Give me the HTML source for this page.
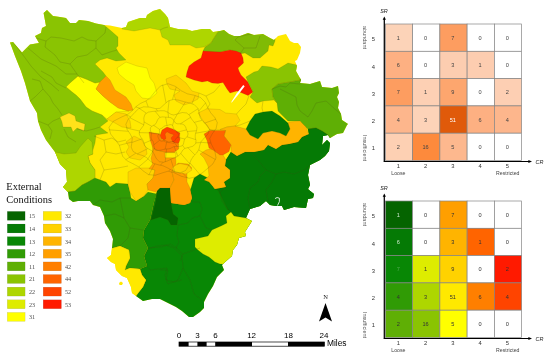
<!DOCTYPE html>
<html><head><meta charset="utf-8"><title>External Conditions</title>
<style>
html,body{margin:0;padding:0;background:#fff;}
body{width:550px;height:357px;position:relative;overflow:hidden;font-family:"Liberation Sans",sans-serif;}
</style></head><body>
<svg width="550" height="357" viewBox="0 0 550 357" style="position:absolute;left:0;top:0">
<defs><clipPath id="o"><polygon points="10,42.4 13,42 22,52.4 30,44.4 39,43 35,36 41,33 42,28 46,26 43.6,13 47,10 53,16 60,17 66,18 70,23 76,23 79,20 88,21 96,23.6 104,25 110,25.6 122,28 126,27 128,22 140,18 146,18 147,15 153,11 160,9 165,14 168,18 170,27 178,29 187,29.6 192,31 202,29 210,29 213,32 220,31 224,30 229,34 234,36 240,36 248,33 254,35 263,34 270,38 274,40 278,36 286,34 290,41 294,43 298,43 301,47 300,53 297,60 295,61 297,66 296,71 301,80 300,83 310,84 320,81 322,87 332,88 338,86 339,93 337,97 339,102 338,108 341,114 342,120 348,124 347,125 343,133 337,134 330,138 328,135 323,136 322,145 327,140 330,143 329,151 325,156 320,160 310,165 308,175 310,185 308,189 309,190 314,194 313,198 308,199 306,208 294,207 284,210 282,206 276,206 270,205 266,201 260,206 250,209 246,218 252,221 245,232 246,236 239,238 237,245 233,250 232,256 224,263 222,265 224,270 217,277 213,286 208,294 204,302 204,308 200,312 193,317 189,317 182,311 176,307 168,303 160,299 152,299 143,301 136,296 132,293 131,287 127,278 122,276 116,270 115,264 111,262 107,258 111,255 112,248 113,239 110,231 105,223 104,216 100,207 93,205 90,201 78,201 73,202 69,199 68,192 63,187 67,182 66,170 60,164 55,152 46,140 41,130 38,121 37,113 30,101 25,83 21,71 15,56"/></clipPath></defs>
<g clip-path="url(#o)" stroke="rgba(90,70,0,0.35)" stroke-width="0.4" stroke-linejoin="round">
<rect x="0" y="0" width="360" height="330" fill="#ffe900" stroke="none"/>
<polygon points="65,86 71,82 78,76 86,79 95,83 100,82 96,89 103,96 110,102 120,108 129,111 116,112 107,119 102,115 92,111 86,107 80,99 72,92" fill="#ffff00"/>
<polygon points="117,68 126,62 137,66 147,68 150,78 154,83 157,93 150,99 142,98 136,91 134,85 126,80 119,74" fill="#ffff00"/>
<polygon points="104,25 110,30 118,37 118,46 116,48 119,53 126,60 116,61 107,58 100,60 95,64 103,72 106,76 100,82 95,83 86,79 78,76 71,82 66,87 72,92 76,95 80,99 86,107 92,111 102,115 108,121 100,127 108,133 96,135 95,143 92,153 93,154 88,156 90,163 95,170 95,178 88,182 82,185 75,191 68,192 40,200 0,200 0,0 104,0" fill="#8ac402"/>
<polygon points="60,117 69,113 75,116 76,121 85,124 84,131 77,128 73,132 71,127 63,127 62,122" fill="#ffe21a"/>
<polygon points="55,152 64,154 76,153 80,147 88,138 92,142 93,154 88,156 90,163 95,170 95,178 88,182 82,185 75,191 68,192 50,195 40,150" fill="#aed600"/>
<polygon points="122,29 134,31 150,28 160,30 162,37 168,40 170,45 190,45 196,48 204,47 211,43 214,38 218,32 222,0 120,0" fill="#aed600"/>
<polygon points="218,32 214,38 211,43 205,47 203,51 212,53 220,52 230,50 239,54 245,53 253,58 260,58 268,51 269,45 273,46 275,41 276,30 250,20 222,20" fill="#80bb05"/>
<polygon points="189,66 194,62 201,58 203,51 212,51.5 220,52 230,50 236,51 241,53 243,58 243.5,63 238,68 239,71 241,75 248,82 253,92 248,95.5 242,93 237,91 230,93 227,89 223,82.5 218,83.5 212,83 207.5,81 202,82 194,80 186,77 187,72" fill="#ff1a00"/>
<polygon points="248,82 246,77 254,72 258,71 262,66 271,67 278,69 288,63 297,65 310,60 310,80 301,80 290,82 278,84 272,89 273,97 277,103 274,100 263,101 257,103 250,97 253,92" fill="#8ac402"/>
<polygon points="277,103 273,97 272,89 278,84 290,82 301,80 300,83 300,70 360,70 360,140 330,138 328,135 322,131 316,128 308,129 304,126 300,121 296,121 288,121 278,111" fill="#5faf05"/>
<polygon points="158,188 170,188 171,203 184,205 190,203 192,198 190,190 191,188 194,178 200,174 208,178 214,188 215,189 226,187 224,182 230,178 230,170 225,166 226,160 231,152 237,156 245,152 254,152 264,150 268,145 276,149 282,145 289,144 298,142 302,137 309,134 308,129 316,128 322,131 328,135 330,138 360,140 360,330 100,330 136,296 139,292 143,287 146,280 142,275 140,269 147,266 144,256 148,248 143,238 144,230 150,220 154,202" fill="#088705"/>
<polygon points="218,190 215,189 226,187 224,182 230,178 230,170 225,166 226,160 231,152 237,156 245,152 254,152 264,150 268,145 276,149 282,145 289,144 298,142 302,137 309,134 308,129 316,128 322,131 328,135 330,138 360,140 360,230 246,218 240,217 234,216 231,212 228,210" fill="#057a05"/>
<polygon points="195,239 208,236 212,230 221,226 227,223 226,216 231,212 234,216 240,217 246,218 260,220 260,260 224,264 220,264 215,262 209,257 203,254 198,250 195,247" fill="#deec00"/>
<polygon points="68,192 75,191 82,185 88,182 95,178 106,182 110,187 116,183 128,184 130,192 131,198 136,201 144,196 148,192 157,194 158,190 154,202 150,220 144,230 143,238 148,248 144,256 147,266 140,269 130,268 125,270 126,266 130,258 129,250 120,246 113,248 100,250 60,210 60,192" fill="#309b05"/>
<polygon points="157.5,188 170,188 171,203 173,214 178,218 177,225 171,225 168,220 160,217 151,220 153,212 156,200" fill="#056400"/>
<polygon points="113,248 120,246 129,250 130,258 126,266 125,270 130,268 140,269 142,275 146,280 143,287 139,292 136,296 130,300 100,300 100,248" fill="#ffe900"/>
<polygon points="106,76 110,80 115,90 126,97 131,104 133,110 128,111 118,108 110,102 103,96 96,89 100,82" fill="#ff9f00"/>
<polygon points="107,119 116,112 126,114 130,121 131,128 122,127 115,123" fill="#ffd200"/>
<polygon points="166,79 176,75 186,83 192,91 199,93 198,99 190,103 184,105 176,101 174,95 180,91 170,89 167,84" fill="#ffd200"/>
<polygon points="198,113 207,108.7 220,109.5 225.6,113 236.5,114 240,120.5 235,126 227,127 220,129.6 210,130 204,122" fill="#ffd200"/>
<polygon points="126,142 134,136 142,140 146,148 147,154 140,160 130,158 126,152 129,147" fill="#ffd200"/>
<polygon points="128,172 136,168 149,168 155,170 153,178 147,184 148,190 144,196 136,201 130,192 128,184" fill="#ffd200"/>
<polygon points="152.5,147 155.4,149.8 165,152 174.4,152 175.8,160 176,164 172,172 174,180 170,188 160,188 156,192 148,190 147,184 153,178 155,170 149,168.7 152.5,164 151,158.5 152.5,152.7" fill="#ff9f00"/>
<polygon points="149,132 160,134 160.5,139 165.6,141 172,139.6 178.7,144 178.7,149 174.4,152 165,152 155.4,149.8 152.5,147 150,139.6" fill="#ff7f00"/>
<polygon points="165,152.7 175.8,152.7 175.8,157.8 165,157.8" fill="#ffe900"/>
<polygon points="161,136 165,132 168,131 175,134 176,139 174,143.5 165,142" fill="#ff7f00"/>
<polygon points="160,135.5 162,130 167,127 172.7,129 180,133 179.5,136 180,139.7 178.6,143.5 172.7,142 171,138 174,134.7 170,133.4 167,131.8 165,134 166,138.5 164,140 161,138.5" fill="#ff4400"/>
<polygon points="174,168 178,163 188,164 192,168 187,173 187,182 190,188 192,198 190,203 184,205 171,203 170,188 174,180 172,172" fill="#ff9f00"/>
<polygon points="172,168 176,165 180,163.5 189,165.5 192,170 186,174 180,173 174,172" fill="#ffd200"/>
<polygon points="200,154 206,150 210,149 218,150 223,155 226,160 225,166 230,170 230,178 224,182 226,187 215,189 209,182 204,180 209,176 208,166 204,158" fill="#ffb400"/>
<polygon points="225.6,130.5 220,129.6 227,127 235,126 246,129 250,135 258,139 263,133 272,131 280,133 286,136 290,129 288,123 289,122 300,121 306,127 308,133 309,134 302,137 298,142 289,144 282,145 276,149 268,145 264,150 254,152 245,152 237,156 231,152 231,145 224,136" fill="#ffb400"/>
<polygon points="204,134 210,130.5 225.6,130.5 224,136 231,145 229,151.5 223,155 220,155 213,150 209,148 207,140.5" fill="#ff6400"/>
<polygon points="250,121 255,114 263,112 272,111 280,116 288,123 290,129 286,136 280,133 272,131 263,133 258,139 250,135 246,129" fill="#057a05"/>
</g>
<g clip-path="url(#o)" fill="none" stroke="rgba(70,70,20,0.42)" stroke-width="0.45" stroke-linejoin="round">
<polyline points="36,38 46,41 51,37 61,38 74,41 82,37 88,40 96,41 105,33 106,27"/>
<polyline points="46,41 45,47 55,55 60,62 70,64 77,57 87,55 96,48 96,41"/>
<polyline points="70,64 77,74 84,83"/>
<polyline points="13,42 23,55 31,66 41,77 51,84 59,91"/>
<polyline points="28,48 41,59 56,66 66,74 77,74"/>
<polyline points="96,48 102,55 110,52 117,50"/>
<polyline points="32,79 40,81 43,89 50,97 53,103 58,109 62,115"/>
<polyline points="41,71 52,77 56,83 66,88"/>
<polyline points="43,89 35,97 30,101"/>
<polyline points="38,121 48,125 52,131 50,139"/>
<polyline points="60,118 53,121 48,125"/>
<polyline points="77,129 86,131 94,129 100,127"/>
<polyline points="64,129 68,137 76,142"/>
<polyline points="178,225 177,236 179,242 176,248 183,254 180,261"/>
<polyline points="178,225 188,223 192,218 200,216 202,209 200,202 192,202"/>
<polyline points="200,216 206,228 212,230"/>
<polyline points="149,248 162,247 170,244 177,248"/>
<polyline points="183,254 194,250 200,248"/>
<polyline points="253,155 258,160 266,170 260,176 258,182 250,188 248,198 250,209"/>
<polyline points="266,170 276,174 284,172 294,174 304,170 310,165"/>
<polyline points="276,174 272,182 266,190 268,201"/>
<polyline points="226,187 220,192 222,201 228,210"/>
<polyline points="148,249 156,246 166,245 174,248 182,256 183,268 178,280 168,284 165,276 167,268 150,270 147,266"/>
<polyline points="183,268 190,280 194,294 202,300"/>
<polyline points="160,270 168,270 166,280 174,282 182,280"/>
<polyline points="272,89 280,86 286,87 290,83 300,84"/>
<polyline points="280,89 288,93 296,97 297,105 300,111 308,117 312,111 316,103 326,101 336,110 341,114"/>
<polyline points="235,40 244,48 256,48 258,42 260,36"/>
<polyline points="235,40 238,37 246,35 252,34"/>
<polyline points="244,48 240,54"/>
<polyline points="160,30 164,28 168,27"/>
<polyline points="94,136 104,140 112,138 118,142 126,140"/>
<polyline points="104,140 106,152 100,160 104,170 100,180"/>
<polyline points="106,152 116,154 125,152"/>
<polyline points="128,166 118,168 104,170"/>
<polyline points="104,216 115,214 124,218 130,228 128,238 120,246"/>
<polyline points="130,228 143,230"/>
<polyline points="93,205 100,200 112,202 120,198 131,198"/>
<polyline points="120,198 124,218"/>
<polyline points="250,121 240,125 235,126"/>
<polyline points="220,85 214,92 206,96 199,93"/>
<polyline points="206,96 210,104 207,108.7"/>
<polyline points="249,95.5 246,104 240,110 236.5,114"/>
<polyline points="263,101 262,108 263,112"/>
<polyline points="178.4,134.0 178.9,135.2 178.5,136.4 177.3,137.3 176.2,138.1 175.7,139.1 175.2,140.2 174.3,141.1 173.0,141.5 171.7,141.6 170.4,141.8 169.2,142.1 168.0,142.0 166.9,141.4 165.9,140.7 164.8,140.6 163.3,141.0 161.6,141.2 160.1,140.8 159.3,139.8 158.7,138.6 158.2,137.5 157.9,136.3 158.1,135.1 159.0,134.0 159.7,133.1 159.7,132.1 159.4,130.9 159.4,129.7 160.2,128.9 161.5,128.4 162.5,127.8 163.3,127.0 164.2,126.1 165.4,125.7 166.7,125.5 168.0,125.3 169.4,124.8 170.9,124.6 172.3,125.1 173.0,126.5 173.4,128.0 173.9,129.0 174.7,129.6 175.6,130.2 176.2,131.1 176.6,132.0 177.4,132.9 178.4,134.0"/>
<polyline points="188.1,134.0 187.4,136.2 185.7,138.1 184.4,139.8 183.9,141.9 183.4,144.2 181.9,146.0 179.2,146.6 176.3,146.4 174.0,146.6 172.2,147.5 170.2,148.5 168.0,148.9 165.7,149.0 163.2,149.5 160.1,150.3 157.0,150.4 154.7,148.9 153.9,146.1 153.7,143.4 153.1,141.4 151.9,139.7 151.1,137.9 151.1,135.9 151.4,134.0 151.0,132.1 150.3,129.9 150.4,127.7 152.1,126.1 154.3,125.0 156.0,123.6 156.9,121.5 158.0,119.0 160.0,117.3 162.7,116.9 165.4,117.1 168.0,117.3 170.5,117.6 172.7,118.9 174.2,121.1 175.4,123.0 177.1,123.8 179.9,123.8 182.9,124.2 184.9,125.6 185.8,127.6 186.5,129.7 187.5,131.8 188.1,134.0"/>
<polyline points="195.4,134.0 195.2,137.1 196.0,140.5 195.6,143.8 192.7,146.3 188.4,147.5 184.8,148.4 182.6,150.4 180.9,153.3 178.5,155.8 175.3,157.4 171.8,158.8 168.0,160.7 163.7,162.3 159.4,161.7 156.2,158.5 154.3,154.4 152.6,151.3 149.8,149.6 146.8,148.0 144.7,145.6 143.8,142.6 142.8,139.8 140.8,137.1 139.2,134.0 139.6,130.8 141.7,127.9 143.7,125.3 144.1,122.1 143.8,118.0 145.0,114.2 148.4,112.1 152.9,111.4 157.0,111.1 160.7,110.7 164.5,110.8 168.0,112.4 171.0,114.4 173.9,115.0 177.7,113.8 182.4,112.5 186.7,113.0 189.6,115.4 191.3,118.6 193.4,121.4 195.7,124.1 197.0,127.3 196.5,130.8 195.4,134.0"/>
<polyline points="208.0,134.0 204.2,138.1 201.1,141.6 199.8,145.4 198.9,149.4 196.7,153.0 193.6,156.0 191.1,159.9 188.9,165.2 185.6,170.5 180.1,172.9 173.7,171.4 168.0,168.1 163.1,165.8 158.4,164.8 153.8,163.5 150.0,160.8 146.8,157.7 142.9,155.6 137.7,154.1 133.0,151.4 131.2,147.1 131.9,142.3 132.3,138.0 130.2,134.0 127.1,129.4 125.9,124.3 128.0,119.7 131.6,115.9 135.0,112.2 138.6,108.7 143.7,106.8 150.1,107.2 155.8,108.7 160.0,108.3 163.6,105.0 168.0,101.1 173.3,99.4 178.5,100.1 183.6,101.6 188.9,102.8 194.2,104.6 197.9,108.3 199.3,113.3 200.3,117.9 203.0,121.5 207.0,125.0 209.4,129.3 208.0,134.0"/>
<polyline points="212.1,134.0 209.7,138.7 211.3,144.0 214.8,150.7 216.0,157.9 213.0,163.8 207.8,168.3 202.5,172.7 196.6,176.7 189.3,178.3 181.1,176.2 173.9,172.6 168.0,171.2 162.0,173.0 155.2,175.3 148.5,174.6 143.2,170.9 138.7,166.9 133.3,163.9 127.2,160.9 122.8,156.5 120.9,150.8 119.3,145.2 115.5,140.0 110.6,134.0 109.0,127.3 113.2,121.4 121.0,117.3 128.1,114.1 132.5,110.5 136.1,106.5 140.7,103.3 145.9,101.0 150.4,97.5 154.9,91.8 160.6,85.9 168.0,83.7 175.3,86.3 181.4,90.8 187.3,93.8 194.0,95.2 200.5,97.5 205.1,102.1 207.8,107.7 210.7,112.8 214.7,117.4 217.3,122.6 216.1,128.5 212.1,134.0"/>
<polyline points="177.4,137.3 184.9,139.0"/>
<polyline points="173.5,141.4 177.2,146.5"/>
<polyline points="166.9,141.4 165.1,149.1"/>
<polyline points="159.6,140.3 153.8,144.9"/>
<polyline points="159.0,134.0 151.3,133.3"/>
<polyline points="159.6,129.4 153.6,125.3"/>
<polyline points="167.0,125.5 165.6,117.2"/>
<polyline points="172.5,125.4 173.9,120.6"/>
<polyline points="176.8,132.2 186.6,129.9"/>
<polyline points="186.9,136.8 195.8,139.6"/>
<polyline points="182.7,145.4 184.7,148.4"/>
<polyline points="174.1,146.5 177.9,156.2"/>
<polyline points="166.6,148.9 165.2,161.9"/>
<polyline points="154.4,148.2 152.7,151.4"/>
<polyline points="152.0,139.9 144.0,143.3"/>
<polyline points="151.2,132.9 139.1,132.6"/>
<polyline points="151.7,126.3 144.0,121.9"/>
<polyline points="160.0,117.3 155.2,111.3"/>
<polyline points="168.5,117.3 168.0,112.4"/>
<polyline points="173.8,120.4 177.4,113.9"/>
<polyline points="180.4,123.8 190.6,117.3"/>
<polyline points="187.4,131.5 196.5,130.7"/>
<polyline points="196.0,142.8 200.6,142.6"/>
<polyline points="187.8,147.6 194.8,154.8"/>
<polyline points="180.8,153.5 189.6,163.6"/>
<polyline points="170.8,159.3 174.8,171.9"/>
<polyline points="162.9,162.4 160.5,165.1"/>
<polyline points="152.7,151.5 148.0,158.7"/>
<polyline points="147.7,148.6 137.3,153.9"/>
<polyline points="142.1,138.8 131.9,142.5"/>
<polyline points="139.4,131.0 126.5,128.0"/>
<polyline points="143.9,124.9 129.8,117.7"/>
<polyline points="146.2,113.1 139.2,108.3"/>
<polyline points="157.5,111.1 156.2,108.8"/>
<polyline points="167.8,112.2 169.1,100.5"/>
<polyline points="177.8,113.8 185.4,102.1"/>
<polyline points="188.9,114.6 198.1,108.7"/>
<polyline points="194.3,122.4 201.8,120.4"/>
<polyline points="195.6,133.2 209.4,130.8"/>
<polyline points="200.7,142.3 210.8,143.0"/>
<polyline points="198.7,150.0 215.6,159.6"/>
<polyline points="189.9,162.8 200.0,174.6"/>
<polyline points="182.2,172.6 187.6,178.1"/>
<polyline points="170.0,169.4 168.9,171.1"/>
<polyline points="154.8,163.9 148.9,174.8"/>
<polyline points="148.2,158.9 138.8,166.9"/>
<polyline points="135.7,153.3 125.6,159.8"/>
<polyline points="132.0,142.0 119.3,145.3"/>
<polyline points="128.3,131.3 109.0,129.8"/>
<polyline points="130.7,116.9 126.6,114.9"/>
<polyline points="139.6,108.1 135.6,106.9"/>
<polyline points="148.2,106.9 146.0,100.9"/>
<polyline points="166.0,102.7 162.6,84.8"/>
<polyline points="172.5,99.4 176.2,87.0"/>
<polyline points="192.0,103.7 195.1,95.5"/>
<polyline points="198.9,111.0 205.6,102.9"/>
<polyline points="204.8,123.0 216.0,119.2"/>
<polyline points="209.4,129.6 214.6,131.0"/>
</g>
<polygon points="119,283 121,281.5 123,283 122,285 119.5,285" fill="#ffe900"/>
<polygon points="243.2,85 244.7,86.2 238.4,94.6 231.8,102.6 231.2,102.2 236.6,93.4" fill="#fff"/>
<path d="M275,198.6 Q277,196.6 279.4,198.2 Q280.3,201.5 277.5,205.5" fill="none" stroke="#fff" stroke-width="0.8"/>
<polygon points="325.5,303 332,321.5 325.5,317.5 319,321.5" fill="#000"/>
<text x="325.6" y="299.3" font-family="Liberation Serif, serif" font-size="6.5" text-anchor="middle" fill="#222">N</text>
<rect x="179" y="342" width="145.4" height="4.2" fill="#fff" stroke="#000" stroke-width="0.7"/>
<rect x="179" y="342" width="9.599999999999994" height="4.2" fill="#000"/>
<rect x="197.4" y="342" width="9.199999999999989" height="4.2" fill="#000"/>
<rect x="215.2" y="342" width="36.80000000000001" height="4.2" fill="#000"/>
<rect x="288" y="342" width="36.39999999999998" height="4.2" fill="#000"/>
<text x="179" y="338.4" font-family="Liberation Sans, sans-serif" font-size="8" text-anchor="middle" fill="#000">0</text>
<text x="197.4" y="338.4" font-family="Liberation Sans, sans-serif" font-size="8" text-anchor="middle" fill="#000">3</text>
<text x="215.4" y="338.4" font-family="Liberation Sans, sans-serif" font-size="8" text-anchor="middle" fill="#000">6</text>
<text x="251.6" y="338.4" font-family="Liberation Sans, sans-serif" font-size="8" text-anchor="middle" fill="#000">12</text>
<text x="288.4" y="338.4" font-family="Liberation Sans, sans-serif" font-size="8" text-anchor="middle" fill="#000">18</text>
<text x="324" y="338.4" font-family="Liberation Sans, sans-serif" font-size="8" text-anchor="middle" fill="#000">24</text>
<text x="327" y="346.2" font-family="Liberation Sans, sans-serif" font-size="8.4" fill="#000">Miles</text>
<text x="6.3" y="189.7" font-family="Liberation Serif, serif" font-size="11.1" textLength="35.4" lengthAdjust="spacingAndGlyphs" fill="#111">External</text>
<text x="6.3" y="202.6" font-family="Liberation Serif, serif" font-size="11.1" textLength="45.8" lengthAdjust="spacingAndGlyphs" fill="#111">Conditions</text>
<rect x="7.3" y="211.40" width="17.8" height="8.9" fill="#056400" stroke="rgba(0,0,0,0.25)" stroke-width="0.3"/>
<text x="29" y="218.30" font-family="Liberation Serif, serif" font-size="6.8" textLength="6.1" lengthAdjust="spacingAndGlyphs" fill="#4a4a4a">15</text>
<rect x="7.3" y="224.03" width="17.8" height="8.9" fill="#057a05" stroke="rgba(0,0,0,0.25)" stroke-width="0.3"/>
<text x="29" y="230.93" font-family="Liberation Serif, serif" font-size="6.8" textLength="6.1" lengthAdjust="spacingAndGlyphs" fill="#4a4a4a">14</text>
<rect x="7.3" y="236.66" width="17.8" height="8.9" fill="#088705" stroke="rgba(0,0,0,0.25)" stroke-width="0.3"/>
<text x="29" y="243.56" font-family="Liberation Serif, serif" font-size="6.8" textLength="6.1" lengthAdjust="spacingAndGlyphs" fill="#4a4a4a">13</text>
<rect x="7.3" y="249.29" width="17.8" height="8.9" fill="#309b05" stroke="rgba(0,0,0,0.25)" stroke-width="0.3"/>
<text x="29" y="256.19" font-family="Liberation Serif, serif" font-size="6.8" textLength="6.1" lengthAdjust="spacingAndGlyphs" fill="#4a4a4a">12</text>
<rect x="7.3" y="261.92" width="17.8" height="8.9" fill="#5faf05" stroke="rgba(0,0,0,0.25)" stroke-width="0.3"/>
<text x="29" y="268.82" font-family="Liberation Serif, serif" font-size="6.8" textLength="6.1" lengthAdjust="spacingAndGlyphs" fill="#4a4a4a">11</text>
<rect x="7.3" y="274.55" width="17.8" height="8.9" fill="#8ac402" stroke="rgba(0,0,0,0.25)" stroke-width="0.3"/>
<text x="29" y="281.45" font-family="Liberation Serif, serif" font-size="6.8" textLength="6.1" lengthAdjust="spacingAndGlyphs" fill="#4a4a4a">21</text>
<rect x="7.3" y="287.18" width="17.8" height="8.9" fill="#aed600" stroke="rgba(0,0,0,0.25)" stroke-width="0.3"/>
<text x="29" y="294.08" font-family="Liberation Serif, serif" font-size="6.8" textLength="6.1" lengthAdjust="spacingAndGlyphs" fill="#4a4a4a">22</text>
<rect x="7.3" y="299.81" width="17.8" height="8.9" fill="#deec00" stroke="rgba(0,0,0,0.25)" stroke-width="0.3"/>
<text x="29" y="306.71" font-family="Liberation Serif, serif" font-size="6.8" textLength="6.1" lengthAdjust="spacingAndGlyphs" fill="#4a4a4a">23</text>
<rect x="7.3" y="312.44" width="17.8" height="8.9" fill="#ffff00" stroke="rgba(0,0,0,0.25)" stroke-width="0.3"/>
<text x="29" y="319.34" font-family="Liberation Serif, serif" font-size="6.8" textLength="6.1" lengthAdjust="spacingAndGlyphs" fill="#4a4a4a">31</text>
<rect x="43.2" y="211.40" width="18.2" height="8.9" fill="#ffe900" stroke="rgba(0,0,0,0.25)" stroke-width="0.3"/>
<text x="65" y="218.30" font-family="Liberation Serif, serif" font-size="6.8" textLength="6.1" lengthAdjust="spacingAndGlyphs" fill="#4a4a4a">32</text>
<rect x="43.2" y="224.03" width="18.2" height="8.9" fill="#ffd200" stroke="rgba(0,0,0,0.25)" stroke-width="0.3"/>
<text x="65" y="230.93" font-family="Liberation Serif, serif" font-size="6.8" textLength="6.1" lengthAdjust="spacingAndGlyphs" fill="#4a4a4a">33</text>
<rect x="43.2" y="236.66" width="18.2" height="8.9" fill="#ffb400" stroke="rgba(0,0,0,0.25)" stroke-width="0.3"/>
<text x="65" y="243.56" font-family="Liberation Serif, serif" font-size="6.8" textLength="6.1" lengthAdjust="spacingAndGlyphs" fill="#4a4a4a">34</text>
<rect x="43.2" y="249.29" width="18.2" height="8.9" fill="#ff9f00" stroke="rgba(0,0,0,0.25)" stroke-width="0.3"/>
<text x="65" y="256.19" font-family="Liberation Serif, serif" font-size="6.8" textLength="6.1" lengthAdjust="spacingAndGlyphs" fill="#4a4a4a">35</text>
<rect x="43.2" y="261.92" width="18.2" height="8.9" fill="#ff7f00" stroke="rgba(0,0,0,0.25)" stroke-width="0.3"/>
<text x="65" y="268.82" font-family="Liberation Serif, serif" font-size="6.8" textLength="6.1" lengthAdjust="spacingAndGlyphs" fill="#4a4a4a">42</text>
<rect x="43.2" y="274.55" width="18.2" height="8.9" fill="#ff6400" stroke="rgba(0,0,0,0.25)" stroke-width="0.3"/>
<text x="65" y="281.45" font-family="Liberation Serif, serif" font-size="6.8" textLength="6.1" lengthAdjust="spacingAndGlyphs" fill="#4a4a4a">44</text>
<rect x="43.2" y="287.18" width="18.2" height="8.9" fill="#ff4400" stroke="rgba(0,0,0,0.25)" stroke-width="0.3"/>
<text x="65" y="294.08" font-family="Liberation Serif, serif" font-size="6.8" textLength="6.1" lengthAdjust="spacingAndGlyphs" fill="#4a4a4a">52</text>
<rect x="43.2" y="299.81" width="18.2" height="8.9" fill="#ff1a00" stroke="rgba(0,0,0,0.25)" stroke-width="0.3"/>
<text x="65" y="306.71" font-family="Liberation Serif, serif" font-size="6.8" textLength="6.1" lengthAdjust="spacingAndGlyphs" fill="#4a4a4a">53</text>
<rect x="385.40" y="24.00" width="27.24" height="27.3" fill="#fcd3b8" stroke="#858585" stroke-width="0.7"/>
<text x="398.32" y="39.75" font-family="Liberation Sans, sans-serif" font-size="5.6" text-anchor="middle" fill="#444">1</text>
<rect x="412.64" y="24.00" width="27.24" height="27.3" fill="#ffffff" stroke="#858585" stroke-width="0.7"/>
<text x="425.56" y="39.75" font-family="Liberation Sans, sans-serif" font-size="5.6" text-anchor="middle" fill="#444">0</text>
<rect x="439.88" y="24.00" width="27.24" height="27.3" fill="#fd9d60" stroke="#858585" stroke-width="0.7"/>
<text x="452.80" y="39.75" font-family="Liberation Sans, sans-serif" font-size="5.6" text-anchor="middle" fill="#444">7</text>
<rect x="467.12" y="24.00" width="27.24" height="27.3" fill="#ffffff" stroke="#858585" stroke-width="0.7"/>
<text x="480.04" y="39.75" font-family="Liberation Sans, sans-serif" font-size="5.6" text-anchor="middle" fill="#444">0</text>
<rect x="494.36" y="24.00" width="27.24" height="27.3" fill="#ffffff" stroke="#858585" stroke-width="0.7"/>
<text x="507.28" y="39.75" font-family="Liberation Sans, sans-serif" font-size="5.6" text-anchor="middle" fill="#444">0</text>
<rect x="385.40" y="51.30" width="27.24" height="27.3" fill="#fdb082" stroke="#858585" stroke-width="0.7"/>
<text x="398.32" y="67.05" font-family="Liberation Sans, sans-serif" font-size="5.6" text-anchor="middle" fill="#444">6</text>
<rect x="412.64" y="51.30" width="27.24" height="27.3" fill="#ffffff" stroke="#858585" stroke-width="0.7"/>
<text x="425.56" y="67.05" font-family="Liberation Sans, sans-serif" font-size="5.6" text-anchor="middle" fill="#444">0</text>
<rect x="439.88" y="51.30" width="27.24" height="27.3" fill="#fccdb0" stroke="#858585" stroke-width="0.7"/>
<text x="452.80" y="67.05" font-family="Liberation Sans, sans-serif" font-size="5.6" text-anchor="middle" fill="#444">3</text>
<rect x="467.12" y="51.30" width="27.24" height="27.3" fill="#fdcdb0" stroke="#858585" stroke-width="0.7"/>
<text x="480.04" y="67.05" font-family="Liberation Sans, sans-serif" font-size="5.6" text-anchor="middle" fill="#444">1</text>
<rect x="494.36" y="51.30" width="27.24" height="27.3" fill="#ffffff" stroke="#858585" stroke-width="0.7"/>
<text x="507.28" y="67.05" font-family="Liberation Sans, sans-serif" font-size="5.6" text-anchor="middle" fill="#444">0</text>
<rect x="385.40" y="78.60" width="27.24" height="27.3" fill="#fd9d60" stroke="#858585" stroke-width="0.7"/>
<text x="398.32" y="94.35" font-family="Liberation Sans, sans-serif" font-size="5.6" text-anchor="middle" fill="#444">7</text>
<rect x="412.64" y="78.60" width="27.24" height="27.3" fill="#fdd0b4" stroke="#858585" stroke-width="0.7"/>
<text x="425.56" y="94.35" font-family="Liberation Sans, sans-serif" font-size="5.6" text-anchor="middle" fill="#444">1</text>
<rect x="439.88" y="78.60" width="27.24" height="27.3" fill="#fda66e" stroke="#858585" stroke-width="0.7"/>
<text x="452.80" y="94.35" font-family="Liberation Sans, sans-serif" font-size="5.6" text-anchor="middle" fill="#444">9</text>
<rect x="467.12" y="78.60" width="27.24" height="27.3" fill="#ffffff" stroke="#858585" stroke-width="0.7"/>
<text x="480.04" y="94.35" font-family="Liberation Sans, sans-serif" font-size="5.6" text-anchor="middle" fill="#444">0</text>
<rect x="494.36" y="78.60" width="27.24" height="27.3" fill="#fdcfb3" stroke="#858585" stroke-width="0.7"/>
<text x="507.28" y="94.35" font-family="Liberation Sans, sans-serif" font-size="5.6" text-anchor="middle" fill="#444">2</text>
<rect x="385.40" y="105.90" width="27.24" height="27.3" fill="#fdb68c" stroke="#858585" stroke-width="0.7"/>
<text x="398.32" y="121.65" font-family="Liberation Sans, sans-serif" font-size="5.6" text-anchor="middle" fill="#444">4</text>
<rect x="412.64" y="105.90" width="27.24" height="27.3" fill="#fdd3b8" stroke="#858585" stroke-width="0.7"/>
<text x="425.56" y="121.65" font-family="Liberation Sans, sans-serif" font-size="5.6" text-anchor="middle" fill="#444">3</text>
<rect x="439.88" y="105.90" width="27.24" height="27.3" fill="#e05a0a" stroke="#858585" stroke-width="0.7"/>
<text x="452.80" y="121.65" font-family="Liberation Sans, sans-serif" font-size="5.6" text-anchor="middle" fill="#fff">51</text>
<rect x="467.12" y="105.90" width="27.24" height="27.3" fill="#fdb082" stroke="#858585" stroke-width="0.7"/>
<text x="480.04" y="121.65" font-family="Liberation Sans, sans-serif" font-size="5.6" text-anchor="middle" fill="#444">6</text>
<rect x="494.36" y="105.90" width="27.24" height="27.3" fill="#fdb68c" stroke="#858585" stroke-width="0.7"/>
<text x="507.28" y="121.65" font-family="Liberation Sans, sans-serif" font-size="5.6" text-anchor="middle" fill="#444">4</text>
<rect x="385.40" y="133.20" width="27.24" height="27.3" fill="#fdd0b3" stroke="#858585" stroke-width="0.7"/>
<text x="398.32" y="148.95" font-family="Liberation Sans, sans-serif" font-size="5.6" text-anchor="middle" fill="#444">2</text>
<rect x="412.64" y="133.20" width="27.24" height="27.3" fill="#fd8a3c" stroke="#858585" stroke-width="0.7"/>
<text x="425.56" y="148.95" font-family="Liberation Sans, sans-serif" font-size="5.6" text-anchor="middle" fill="#444">16</text>
<rect x="439.88" y="133.20" width="27.24" height="27.3" fill="#fdb88e" stroke="#858585" stroke-width="0.7"/>
<text x="452.80" y="148.95" font-family="Liberation Sans, sans-serif" font-size="5.6" text-anchor="middle" fill="#444">5</text>
<rect x="467.12" y="133.20" width="27.24" height="27.3" fill="#ffffff" stroke="#858585" stroke-width="0.7"/>
<text x="480.04" y="148.95" font-family="Liberation Sans, sans-serif" font-size="5.6" text-anchor="middle" fill="#444">0</text>
<rect x="494.36" y="133.20" width="27.24" height="27.3" fill="#ffffff" stroke="#858585" stroke-width="0.7"/>
<text x="507.28" y="148.95" font-family="Liberation Sans, sans-serif" font-size="5.6" text-anchor="middle" fill="#444">0</text>
<line x1="384.3" y1="19" x2="384.3" y2="161.5" stroke="#000" stroke-width="1.25"/>
<polygon points="384.3,16.6 385.9,19.8 382.7,19.8" fill="#000"/>
<line x1="383.7" y1="161.5" x2="529" y2="161.5" stroke="#000" stroke-width="1.05"/>
<polygon points="532,161.5 528.4,160 528.4,163" fill="#000"/>
<text x="384" y="13" font-family="Liberation Sans, sans-serif" font-size="5.4" font-style="italic" text-anchor="middle" fill="#222">SR</text>
<text x="539.5" y="163.5" font-family="Liberation Sans, sans-serif" font-size="5.4" font-style="italic" text-anchor="middle" fill="#222">CR</text>
<text x="373.3" y="41.25" font-family="Liberation Sans, sans-serif" font-size="5.8" text-anchor="middle" fill="#333">5</text>
<text x="373.3" y="68.55" font-family="Liberation Sans, sans-serif" font-size="5.8" text-anchor="middle" fill="#333">4</text>
<text x="373.3" y="95.85" font-family="Liberation Sans, sans-serif" font-size="5.8" text-anchor="middle" fill="#333">3</text>
<text x="373.3" y="123.15" font-family="Liberation Sans, sans-serif" font-size="5.8" text-anchor="middle" fill="#333">2</text>
<text x="373.3" y="150.45" font-family="Liberation Sans, sans-serif" font-size="5.8" text-anchor="middle" fill="#333">1</text>
<text x="398.42" y="168.4" font-family="Liberation Sans, sans-serif" font-size="5.8" text-anchor="middle" fill="#333">1</text>
<text x="425.66" y="168.4" font-family="Liberation Sans, sans-serif" font-size="5.8" text-anchor="middle" fill="#333">2</text>
<text x="452.90" y="168.4" font-family="Liberation Sans, sans-serif" font-size="5.8" text-anchor="middle" fill="#333">3</text>
<text x="480.14" y="168.4" font-family="Liberation Sans, sans-serif" font-size="5.8" text-anchor="middle" fill="#333">4</text>
<text x="507.38" y="168.4" font-family="Liberation Sans, sans-serif" font-size="5.8" text-anchor="middle" fill="#333">5</text>
<text x="398.4" y="174.9" font-family="Liberation Sans, sans-serif" font-size="5.2" text-anchor="middle" fill="#444">Loose</text>
<text x="507.8" y="174.9" font-family="Liberation Sans, sans-serif" font-size="5.2" text-anchor="middle" fill="#444">Restricted</text>
<text transform="translate(363,37.5) rotate(90)" font-family="Liberation Sans, sans-serif" font-size="5.5" text-anchor="middle" fill="#555">abundant</text>
<text transform="translate(363,148) rotate(90)" font-family="Liberation Sans, sans-serif" font-size="5.5" text-anchor="middle" fill="#555">Insufficient</text>
<rect x="385.40" y="201.00" width="27.24" height="27.3" fill="#056400" stroke="#858585" stroke-width="0.7"/>
<text x="398.32" y="216.75" font-family="Liberation Sans, sans-serif" font-size="5.6" text-anchor="middle" fill="#cfe8cf">1</text>
<rect x="412.64" y="201.00" width="27.24" height="27.3" fill="#ffffff" stroke="#858585" stroke-width="0.7"/>
<text x="425.56" y="216.75" font-family="Liberation Sans, sans-serif" font-size="5.6" text-anchor="middle" fill="#333">0</text>
<rect x="439.88" y="201.00" width="27.24" height="27.3" fill="#ff9f00" stroke="#858585" stroke-width="0.7"/>
<text x="452.80" y="216.75" font-family="Liberation Sans, sans-serif" font-size="5.6" text-anchor="middle" fill="#333">7</text>
<rect x="467.12" y="201.00" width="27.24" height="27.3" fill="#ffffff" stroke="#858585" stroke-width="0.7"/>
<text x="480.04" y="216.75" font-family="Liberation Sans, sans-serif" font-size="5.6" text-anchor="middle" fill="#333">0</text>
<rect x="494.36" y="201.00" width="27.24" height="27.3" fill="#ffffff" stroke="#858585" stroke-width="0.7"/>
<text x="507.28" y="216.75" font-family="Liberation Sans, sans-serif" font-size="5.6" text-anchor="middle" fill="#333">0</text>
<rect x="385.40" y="228.30" width="27.24" height="27.3" fill="#057a05" stroke="#858585" stroke-width="0.7"/>
<text x="398.32" y="244.05" font-family="Liberation Sans, sans-serif" font-size="5.6" text-anchor="middle" fill="#cfe8cf">6</text>
<rect x="412.64" y="228.30" width="27.24" height="27.3" fill="#ffffff" stroke="#858585" stroke-width="0.7"/>
<text x="425.56" y="244.05" font-family="Liberation Sans, sans-serif" font-size="5.6" text-anchor="middle" fill="#333">0</text>
<rect x="439.88" y="228.30" width="27.24" height="27.3" fill="#ffb400" stroke="#858585" stroke-width="0.7"/>
<text x="452.80" y="244.05" font-family="Liberation Sans, sans-serif" font-size="5.6" text-anchor="middle" fill="#333">3</text>
<rect x="467.12" y="228.30" width="27.24" height="27.3" fill="#ff6400" stroke="#858585" stroke-width="0.7"/>
<text x="480.04" y="244.05" font-family="Liberation Sans, sans-serif" font-size="5.6" text-anchor="middle" fill="#333">1</text>
<rect x="494.36" y="228.30" width="27.24" height="27.3" fill="#ffffff" stroke="#858585" stroke-width="0.7"/>
<text x="507.28" y="244.05" font-family="Liberation Sans, sans-serif" font-size="5.6" text-anchor="middle" fill="#333">0</text>
<rect x="385.40" y="255.60" width="27.24" height="27.3" fill="#088705" stroke="#858585" stroke-width="0.7"/>
<text x="398.32" y="271.35" font-family="Liberation Sans, sans-serif" font-size="5.6" text-anchor="middle" fill="#5a5">7</text>
<rect x="412.64" y="255.60" width="27.24" height="27.3" fill="#deec00" stroke="#858585" stroke-width="0.7"/>
<text x="425.56" y="271.35" font-family="Liberation Sans, sans-serif" font-size="5.6" text-anchor="middle" fill="#333">1</text>
<rect x="439.88" y="255.60" width="27.24" height="27.3" fill="#ffd200" stroke="#858585" stroke-width="0.7"/>
<text x="452.80" y="271.35" font-family="Liberation Sans, sans-serif" font-size="5.6" text-anchor="middle" fill="#333">9</text>
<rect x="467.12" y="255.60" width="27.24" height="27.3" fill="#ffffff" stroke="#858585" stroke-width="0.7"/>
<text x="480.04" y="271.35" font-family="Liberation Sans, sans-serif" font-size="5.6" text-anchor="middle" fill="#333">0</text>
<rect x="494.36" y="255.60" width="27.24" height="27.3" fill="#ff1a00" stroke="#858585" stroke-width="0.7"/>
<text x="507.28" y="271.35" font-family="Liberation Sans, sans-serif" font-size="5.6" text-anchor="middle" fill="#333">2</text>
<rect x="385.40" y="282.90" width="27.24" height="27.3" fill="#309b05" stroke="#858585" stroke-width="0.7"/>
<text x="398.32" y="298.65" font-family="Liberation Sans, sans-serif" font-size="5.6" text-anchor="middle" fill="#333">4</text>
<rect x="412.64" y="282.90" width="27.24" height="27.3" fill="#aed600" stroke="#858585" stroke-width="0.7"/>
<text x="425.56" y="298.65" font-family="Liberation Sans, sans-serif" font-size="5.6" text-anchor="middle" fill="#333">3</text>
<rect x="439.88" y="282.90" width="27.24" height="27.3" fill="#ffe900" stroke="#858585" stroke-width="0.7"/>
<text x="452.80" y="298.65" font-family="Liberation Sans, sans-serif" font-size="5.6" text-anchor="middle" fill="#333">51</text>
<rect x="467.12" y="282.90" width="27.24" height="27.3" fill="#ff7f00" stroke="#858585" stroke-width="0.7"/>
<text x="480.04" y="298.65" font-family="Liberation Sans, sans-serif" font-size="5.6" text-anchor="middle" fill="#333">6</text>
<rect x="494.36" y="282.90" width="27.24" height="27.3" fill="#ff4400" stroke="#858585" stroke-width="0.7"/>
<text x="507.28" y="298.65" font-family="Liberation Sans, sans-serif" font-size="5.6" text-anchor="middle" fill="#333">4</text>
<rect x="385.40" y="310.20" width="27.24" height="27.3" fill="#5faf05" stroke="#858585" stroke-width="0.7"/>
<text x="398.32" y="325.95" font-family="Liberation Sans, sans-serif" font-size="5.6" text-anchor="middle" fill="#333">2</text>
<rect x="412.64" y="310.20" width="27.24" height="27.3" fill="#8ac402" stroke="#858585" stroke-width="0.7"/>
<text x="425.56" y="325.95" font-family="Liberation Sans, sans-serif" font-size="5.6" text-anchor="middle" fill="#333">16</text>
<rect x="439.88" y="310.20" width="27.24" height="27.3" fill="#ffff00" stroke="#858585" stroke-width="0.7"/>
<text x="452.80" y="325.95" font-family="Liberation Sans, sans-serif" font-size="5.6" text-anchor="middle" fill="#333">5</text>
<rect x="467.12" y="310.20" width="27.24" height="27.3" fill="#ffffff" stroke="#858585" stroke-width="0.7"/>
<text x="480.04" y="325.95" font-family="Liberation Sans, sans-serif" font-size="5.6" text-anchor="middle" fill="#333">0</text>
<rect x="494.36" y="310.20" width="27.24" height="27.3" fill="#ffffff" stroke="#858585" stroke-width="0.7"/>
<text x="507.28" y="325.95" font-family="Liberation Sans, sans-serif" font-size="5.6" text-anchor="middle" fill="#333">0</text>
<line x1="384.3" y1="196" x2="384.3" y2="338.5" stroke="#000" stroke-width="1.25"/>
<polygon points="384.3,193.6 385.9,196.8 382.7,196.8" fill="#000"/>
<line x1="383.7" y1="338.5" x2="529" y2="338.5" stroke="#000" stroke-width="1.05"/>
<polygon points="532,338.5 528.4,337 528.4,340" fill="#000"/>
<text x="384" y="190" font-family="Liberation Sans, sans-serif" font-size="5.4" font-style="italic" text-anchor="middle" fill="#222">SR</text>
<text x="539.5" y="340.5" font-family="Liberation Sans, sans-serif" font-size="5.4" font-style="italic" text-anchor="middle" fill="#222">CR</text>
<text x="373.3" y="218.25" font-family="Liberation Sans, sans-serif" font-size="5.8" text-anchor="middle" fill="#333">5</text>
<text x="373.3" y="245.55" font-family="Liberation Sans, sans-serif" font-size="5.8" text-anchor="middle" fill="#333">4</text>
<text x="373.3" y="272.85" font-family="Liberation Sans, sans-serif" font-size="5.8" text-anchor="middle" fill="#333">3</text>
<text x="373.3" y="300.15" font-family="Liberation Sans, sans-serif" font-size="5.8" text-anchor="middle" fill="#333">2</text>
<text x="373.3" y="327.45" font-family="Liberation Sans, sans-serif" font-size="5.8" text-anchor="middle" fill="#333">1</text>
<text x="398.42" y="345.4" font-family="Liberation Sans, sans-serif" font-size="5.8" text-anchor="middle" fill="#333">1</text>
<text x="425.66" y="345.4" font-family="Liberation Sans, sans-serif" font-size="5.8" text-anchor="middle" fill="#333">2</text>
<text x="452.90" y="345.4" font-family="Liberation Sans, sans-serif" font-size="5.8" text-anchor="middle" fill="#333">3</text>
<text x="480.14" y="345.4" font-family="Liberation Sans, sans-serif" font-size="5.8" text-anchor="middle" fill="#333">4</text>
<text x="507.38" y="345.4" font-family="Liberation Sans, sans-serif" font-size="5.8" text-anchor="middle" fill="#333">5</text>
<text x="398.4" y="351.9" font-family="Liberation Sans, sans-serif" font-size="5.2" text-anchor="middle" fill="#444">Loose</text>
<text x="507.8" y="351.9" font-family="Liberation Sans, sans-serif" font-size="5.2" text-anchor="middle" fill="#444">Restricted</text>
<text transform="translate(363,214.5) rotate(90)" font-family="Liberation Sans, sans-serif" font-size="5.5" text-anchor="middle" fill="#555">abundant</text>
<text transform="translate(363,325) rotate(90)" font-family="Liberation Sans, sans-serif" font-size="5.5" text-anchor="middle" fill="#555">Insufficient</text>
</svg>
</body></html>
